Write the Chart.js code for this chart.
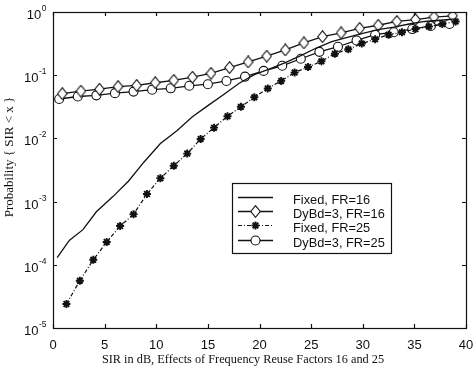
<!DOCTYPE html>
<html>
<head>
<meta charset="utf-8">
<script src="https://cdn.jsdelivr.net/npm/chart.js@4.4.1/dist/chart.umd.min.js"></script>
<style>
  body { margin: 0; background: #fff; }
  #wrap { width: 474px; height: 369px; }
</style>
</head>
<body>
<div id="wrap"><canvas id="sir-chart" width="474" height="369"></canvas></div>
<script>
// Data
const fixed16X = [0.4, 1.6, 2.9, 4.2, 5.8, 7.3, 8.8, 10.4, 12.0, 13.5, 15.0, 16.5, 18.0, 19.5, 21.0, 22.5, 24.0, 25.5, 27.0, 28.5, 30.0, 31.5, 33.0, 34.5, 36.0, 37.5, 39.0];
const fixed16Y = [1.3e-4, 2.45e-4, 3.6e-4, 6.9e-4, 1.2e-3, 2.1e-3, 4.2e-3, 8.3e-3, 0.0132, 0.022, 0.033, 0.049, 0.074, 0.102, 0.126, 0.158, 0.204, 0.269, 0.339, 0.398, 0.457, 0.525, 0.575, 0.646, 0.708, 0.741, 0.776];

const dybd16X = [0.9, 2.7, 4.5, 6.3, 8.1, 9.9, 11.7, 13.5, 15.3, 17.1, 18.9, 20.7, 22.5, 24.3, 26.1, 27.9, 29.7, 31.5, 33.3, 35.1, 36.9, 38.7];
const dybd16Y = [0.051, 0.056, 0.060, 0.066, 0.069, 0.076, 0.083, 0.093, 0.107, 0.132, 0.162, 0.200, 0.251, 0.324, 0.407, 0.468, 0.550, 0.617, 0.708, 0.759, 0.832, 0.871];

const fixed25X = [1.3, 2.6, 3.9, 5.2, 6.5, 7.8, 9.1, 10.4, 11.7, 13.0, 14.3, 15.6, 16.9, 18.2, 19.5, 20.8, 22.1, 23.4, 24.7, 26.0, 27.3, 28.6, 29.9, 31.2, 32.5, 33.8, 35.1, 36.4, 37.7, 39.0];
const fixed25Y = [2.4e-5, 5.6e-5, 1.2e-4, 2.3e-4, 4.1e-4, 6.3e-4, 1.32e-3, 2.34e-3, 3.7e-3, 5.75e-3, 9.8e-3, 0.0148, 0.0224, 0.0316, 0.0447, 0.0617, 0.0813, 0.110, 0.135, 0.166, 0.219, 0.257, 0.316, 0.372, 0.437, 0.479, 0.537, 0.589, 0.646, 0.708];

const dybd25X = [0.6, 2.4, 4.2, 6.0, 7.8, 9.6, 11.4, 13.2, 15.0, 16.8, 18.6, 20.4, 22.2, 24.0, 25.8, 27.6, 29.4, 31.2, 33.0, 34.8, 36.6, 38.4];
const dybd25Y = [0.042, 0.046, 0.048, 0.052, 0.055, 0.059, 0.062, 0.068, 0.072, 0.081, 0.095, 0.117, 0.141, 0.182, 0.234, 0.282, 0.355, 0.437, 0.479, 0.537, 0.603, 0.646];

const seriesLabels = ['Fixed, FR=16', 'DyBd=3, FR=16', 'Fixed, FR=25', 'DyBd=3, FR=25'];
const xTicks = [0, 5, 10, 15, 20, 25, 30, 35, 40];
const yTickExps = [0, -1, -2, -3, -4, -5];
const xTitle = 'SIR in dB, Effects of Frequency Reuse Factors 16 and 25';
const yTitle = 'Probability { SIR < x }';

function toPoints(xs, ys) {
  return xs.map((x, i) => ({ x: x, y: ys[i] }));
}

const SANS = '"Liberation Sans", Arial, sans-serif';
const SERIF = '"Liberation Serif", "Times New Roman", serif';
const INK = '#111';

// tall open diamond like the matlab marker
function makeDiamond() {
  const c = document.createElement('canvas');
  c.width = 11; c.height = 13;
  const g = c.getContext('2d');
  g.fillStyle = '#fff';
  g.strokeStyle = INK;
  g.lineWidth = 1.1;
  g.beginPath();
  g.moveTo(5.5, 0.7); g.lineTo(10.2, 6.5); g.lineTo(5.5, 12.3); g.lineTo(0.8, 6.5);
  g.closePath();
  g.fill(); g.stroke();
  return c;
}
const diamond = makeDiamond();

// Axes box, inward ticks, tick labels, titles and legend (MATLAB look)
const matlabFrame = {
  id: 'matlabFrame',
  afterDraw(chart) {
    const ctx = chart.ctx;
    const area = chart.chartArea;
    const xs = chart.scales.x;
    const ys = chart.scales.y;
    const tl = 4;

    ctx.save();
    ctx.strokeStyle = INK;
    ctx.lineWidth = 1.2;
    ctx.strokeRect(Math.round(area.left) + 0.5, Math.round(area.top) + 0.5,
      Math.round(area.right - area.left), Math.round(area.bottom - area.top));

    ctx.beginPath();
    xTicks.forEach(v => {
      const px = Math.round(xs.getPixelForValue(v)) + 0.5;
      ctx.moveTo(px, area.bottom); ctx.lineTo(px, area.bottom - tl);
      ctx.moveTo(px, area.top); ctx.lineTo(px, area.top + tl);
    });
    yTickExps.forEach(e => {
      const py = Math.round(ys.getPixelForValue(Math.pow(10, e))) + 0.5;
      ctx.moveTo(area.left, py); ctx.lineTo(area.left + tl, py);
      ctx.moveTo(area.right, py); ctx.lineTo(area.right - tl, py);
    });
    ctx.stroke();

    // x tick labels
    ctx.fillStyle = INK;
    ctx.font = '13px ' + SANS;
    ctx.textAlign = 'center';
    ctx.textBaseline = 'alphabetic';
    xTicks.forEach(v => {
      ctx.fillText(String(v), xs.getPixelForValue(v), area.bottom + 21);
    });

    // y tick labels as 10 with superscript exponent
    yTickExps.forEach(e => {
      const py = ys.getPixelForValue(Math.pow(10, e));
      const expText = e === 0 ? '0' : '-' + Math.abs(e);
      ctx.font = '8.5px ' + SANS;
      const ew = ctx.measureText(expText).width;
      ctx.font = '13px ' + SANS;
      const bw = ctx.measureText('10').width;
      const right = area.left - 7;
      ctx.textAlign = 'left';
      ctx.fillText('10', right - ew - bw, py + 7);
      ctx.font = '8.5px ' + SANS;
      ctx.fillText(expText, right - ew + 0.5, py - 1);
    });

    // axis titles
    ctx.font = '12.3px ' + SERIF;
    ctx.textAlign = 'center';
    ctx.fillText(xTitle, 243, 363);
    ctx.save();
    ctx.translate(13, 157);
    ctx.rotate(-Math.PI / 2);
    ctx.font = '13px ' + SERIF;
    ctx.fillText(yTitle, 0, 0);
    ctx.restore();

    // legend
    const bx = 232, by = 183, bw2 = 159, bh = 70;
    ctx.fillStyle = '#fff';
    ctx.fillRect(bx, by, bw2, bh);
    ctx.strokeStyle = INK;
    ctx.lineWidth = 1.2;
    ctx.strokeRect(bx + 0.5, by + 0.5, bw2, bh);
    chart.data.datasets.forEach((ds, i) => {
      const base = 204 + i * 14.2;
      const ly = Math.round(base - 7) + 0.5;
      ctx.save();
      ctx.strokeStyle = ds.borderColor;
      ctx.lineWidth = ds.borderWidth;
      ctx.setLineDash(ds.borderDash || []);
      ctx.beginPath();
      ctx.moveTo(238, ly);
      ctx.lineTo(273, ly);
      ctx.stroke();
      ctx.restore();
      if (ds.pointRadius > 0) {
        ctx.save();
        ctx.strokeStyle = ds.pointBorderColor;
        ctx.fillStyle = ds.pointBackgroundColor;
        ctx.lineWidth = ds.pointBorderWidth;
        Chart.helpers.drawPoint(ctx, {
          pointStyle: ds.pointStyle,
          radius: ds.pointRadius,
          borderWidth: ds.pointBorderWidth,
          rotation: 0
        }, 255.5, ly);
        ctx.restore();
      }
      ctx.fillStyle = INK;
      ctx.font = '12.8px ' + SANS;
      ctx.textAlign = 'left';
      ctx.fillText(ds.label, 293, base);
    });
    ctx.restore();
  }
};

const ctx = document.getElementById('sir-chart').getContext('2d');
const chart = new Chart(ctx, {
  type: 'scatter',
  data: {
    datasets: [
      {
        label: seriesLabels[0],
        data: toPoints(fixed16X, fixed16Y),
        showLine: true,
        borderColor: INK,
        borderWidth: 1.3,
        pointRadius: 0,
        pointStyle: 'circle',
        pointBorderColor: INK,
        pointBackgroundColor: '#fff',
        pointBorderWidth: 1
      },
      {
        label: seriesLabels[1],
        data: toPoints(dybd16X, dybd16Y),
        showLine: true,
        borderColor: INK,
        borderWidth: 1.3,
        pointStyle: diamond,
        pointRadius: 5,
        pointBorderColor: INK,
        pointBackgroundColor: '#fff',
        pointBorderWidth: 1
      },
      {
        label: seriesLabels[2],
        data: toPoints(fixed25X, fixed25Y),
        showLine: true,
        borderColor: INK,
        borderWidth: 1.2,
        borderDash: [4, 2, 1, 2],
        pointStyle: 'star',
        pointRadius: 4,
        pointBorderColor: INK,
        pointBackgroundColor: INK,
        pointBorderWidth: 1.9
      },
      {
        label: seriesLabels[3],
        data: toPoints(dybd25X, dybd25Y),
        showLine: true,
        borderColor: INK,
        borderWidth: 1.3,
        pointStyle: 'circle',
        pointRadius: 4.5,
        pointBorderColor: INK,
        pointBackgroundColor: '#fff',
        pointBorderWidth: 1.1
      }
    ]
  },
  options: {
    responsive: false,
    animation: false,
    layout: { padding: { left: 53, right: 8, top: 12, bottom: 41 } },
    elements: { line: { tension: 0 } },
    plugins: {
      legend: { display: false },
      tooltip: { enabled: false }
    },
    scales: {
      x: { type: 'linear', min: 0, max: 40, display: false },
      y: { type: 'logarithmic', min: 1e-5, max: 1, display: false }
    }
  },
  plugins: [matlabFrame]
});
</script>
</body>
</html>
